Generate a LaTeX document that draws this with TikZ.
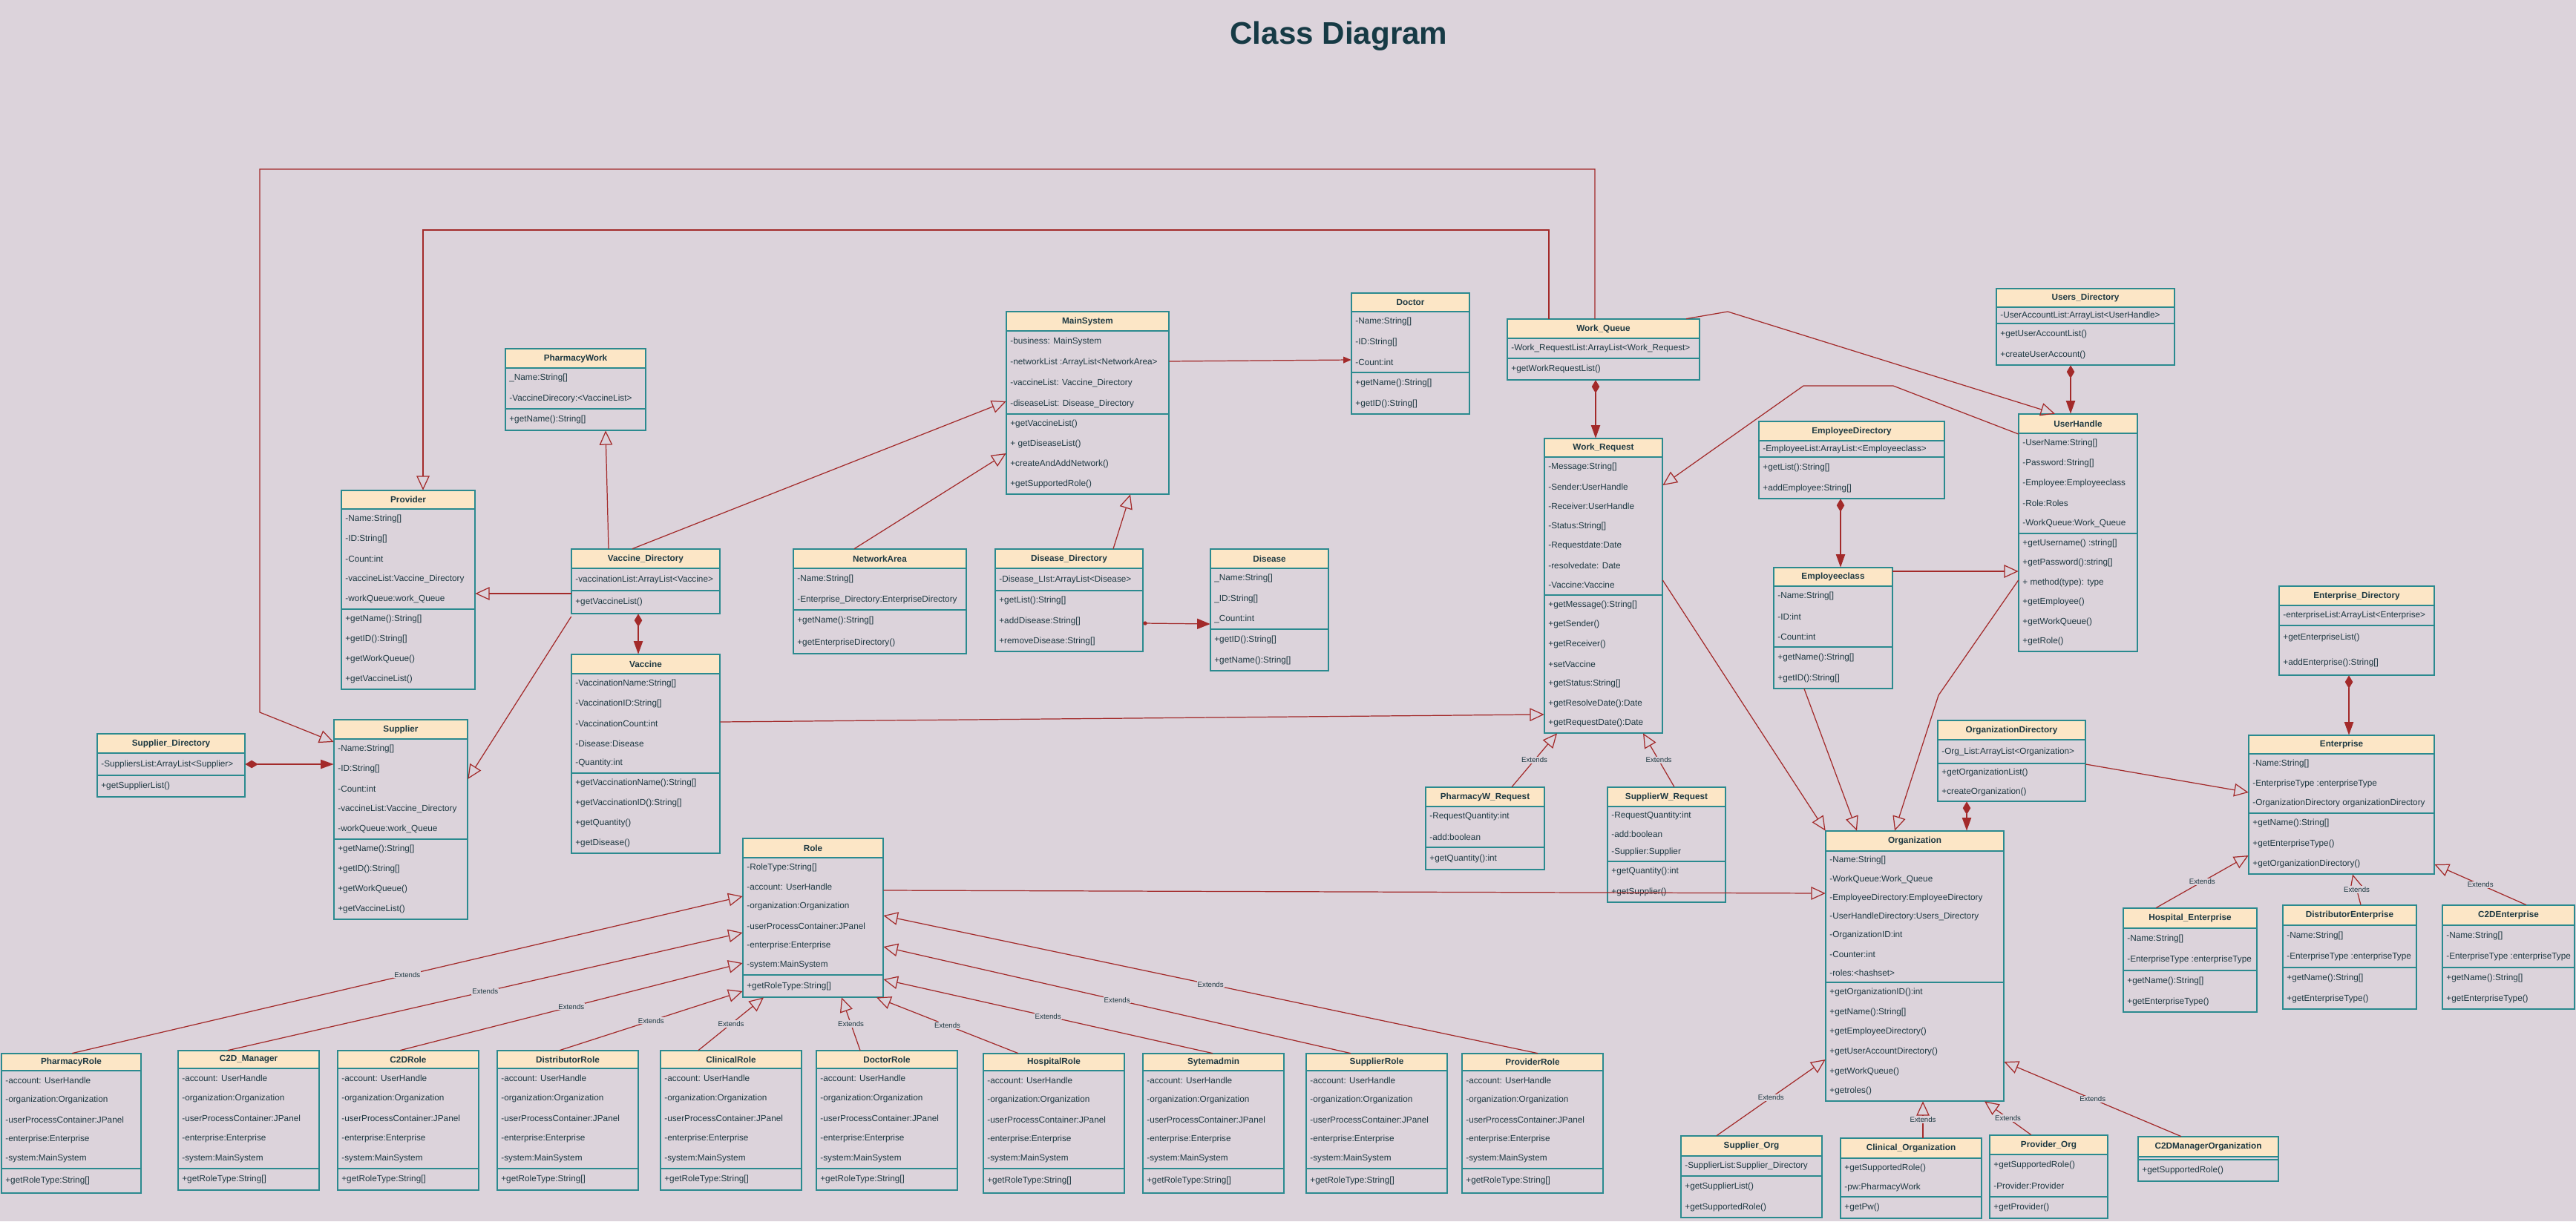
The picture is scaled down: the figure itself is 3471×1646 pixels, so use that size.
\documentclass[tikz,border=0pt]{standalone}
\usepackage{fontspec}
\setmainfont{Liberation Sans}
\usetikzlibrary{arrows.meta,fit}
\definecolor{bg}{HTML}{DCD3DB}
\definecolor{hdr}{HTML}{FCE6C6}
\definecolor{bordc}{HTML}{2B8A8F}
\definecolor{linec}{HTML}{A32A2A}
\definecolor{txtc}{HTML}{1E3942}
\definecolor{titlec}{HTML}{163A45}
\tikzset{
  box/.style={draw=bordc,line width=0.9pt},
  ttl/.style={font=\fontsize{6.7}{8}\selectfont\bfseries,text=txtc,inner sep=0},
  txt/.style={font=\fontsize{6.7}{8}\selectfont,text=txtc,anchor=west,inner sep=0},
  link/.style={draw=linec,line width=0.7pt},
  inh/.style={link,-{Triangle[open,length=11pt,width=10pt]}},
  comp/.style={link,{Diamond[length=10pt,width=6pt]}-{Triangle[length=10pt,width=7pt]}},
  assoc/.style={link,-{Triangle[length=6pt,width=5pt]}},
  assocd/.style={link,{Circle[length=3pt]}-{Triangle[length=10pt,width=8pt]}},
  ext/.style={font=\fontsize{5.5}{6}\selectfont,text=txtc,fill=bg,inner sep=0.6pt,midway}
}
\def\setys#1/#2/#3/#4\relax{\def\ya{#1}\def\yb{#2}\def\yc{#3}\def\yd{#4}}
\newcommand\cls[7]{%
  \setys#4\relax
  \draw[box,fill=hdr] (#2,\ya) rectangle (#3,\yb);
  \draw[box] (#2,\yb) rectangle (#3,\yc);
  \draw[box] (#2,\yc) rectangle (#3,\yd);
  \node[fit={(#2,\ya)(#3,\yd)},inner sep=0] (#1) {};
  \node[ttl] at ({(#2+#3)/2},{(\ya+\yb)/2}) {#5};
  \foreach \itm [count=\n] in {#6}{\xdef\na{\n}}
  \foreach \itm [count=\i] in {#6}{\node[txt] at ({#2+5},{\yb+(\i-0.5)*(\yc-\yb)/\na}) {\itm};}
  \foreach \itm [count=\n] in {#7}{\xdef\nm{\n}}
  \foreach \itm [count=\i] in {#7}{\node[txt] at ({#2+5},{\yc+(\i-0.5)*(\yd-\yc)/\nm}) {\itm};}
}
\newcommand\rolecls[5]{\cls{#1}{#2}{#3}{#4}{#5}{-account: UserHandle,-organization:Organization,-userProcessContainer:JPanel,-enterprise:Enterprise,-system:MainSystem}{+getRoleType:String[]}}
\begin{document}
\begin{tikzpicture}[x=0.02cm,y=-0.02cm]
\fill[bg] (0,0) rectangle (3471,1646);
\useasboundingbox (0,0) rectangle (3471,1646);
\node[font=\fontsize{24}{28}\selectfont\bfseries,text=titlec] (title) at (1804,49) {Class Diagram};

\cls{prov}{460}{640}{661/686/821/929}{Provider}{-Name:String[],-ID:String[],-Count:int,-vaccineList:Vaccine\_Directory,-workQueue:work\_Queue}{+getName():String[],+getID():String[],+getWorkQueue(),+getVaccineList()}
\cls{supp}{450}{630}{970/996/1131/1239}{Supplier}{-Name:String[],-ID:String[],-Count:int,-vaccineList:Vaccine\_Directory,-workQueue:work\_Queue}{+getName():String[],+getID():String[],+getWorkQueue(),+getVaccineList()}
\cls{pw}{681}{870}{470/496/551/580}{PharmacyWork}{\_Name:String[],-VaccineDirecory:<VaccineList>}{+getName():String[]}
\cls{vd}{770}{970}{740/766/796/827}{Vaccine\_Directory}{-vaccinationList:ArrayList<Vaccine>}{+getVaccineList()}
\cls{vac}{770}{970}{882/908/1042/1150}{Vaccine}{-VaccinationName:String[],-VaccinationID:String[],-VaccinationCount:int,-Disease:Disease,-Quantity:int}{+getVaccinationName():String[],+getVaccinationID():String[],+getQuantity(),+getDisease()}
\cls{sd}{131}{330}{989/1015/1045/1074}{Supplier\_Directory}{-SuppliersList:ArrayList<Supplier>}{+getSupplierList()}
\cls{net}{1069}{1302}{740/766/822/881}{NetworkArea}{-Name:String[],-Enterprise\_Directory:EnterpriseDirectory}{+getName():String[],+getEnterpriseDirectory()}
\cls{ms}{1356}{1575}{420/446/558/666}{MainSystem}{-business: MainSystem,-networkList :ArrayList<NetworkArea>,-vaccineList: Vaccine\_Directory,-diseaseList: Disease\_Directory}{+getVaccineList(),+ getDiseaseList(),+createAndAddNetwork(),+getSupportedRole()}
\cls{doc}{1821}{1980}{395/420/502/558}{Doctor}{-Name:String[],-ID:String[],-Count:int}{+getName():String[],+getID():String[]}
\cls{dd}{1341}{1540}{740/766/796/878}{Disease\_Directory}{-Disease\_LIst:ArrayList<Disease>}{+getList():String[],+addDisease:String[],+removeDisease:String[]}
\cls{dis}{1631}{1790}{740/766/848/904}{Disease}{\_Name:String[],\_ID:String[],\_Count:int}{+getID():String[],+getName():String[]}
\cls{wq}{2031}{2290}{430/456/483/512}{Work\_Queue}{-Work\_RequestList:ArrayList<Work\_Request>}{+getWorkRequestList()}
\cls{wr}{2081}{2240}{591/616/802/988}{Work\_Request}{-Message:String[],-Sender:UserHandle,-Receiver:UserHandle,-Status:String[],-Requestdate:Date,-resolvedate: Date,-Vaccine:Vaccine}{+getMessage():String[],+getSender(),+getReceiver(),+setVaccine,+getStatus:String[],+getResolveDate():Date,+getRequestDate():Date}
\cls{ud}{2690}{2930}{389/414/436/492}{Users\_Directory}{-UserAccountList:ArrayList<UserHandle>}{+getUserAccountList(),+createUserAccount()}
\cls{uh}{2720}{2880}{558/584/719/878}{UserHandle}{-UserName:String[],-Password:String[],-Employee:Employeeclass,-Role:Roles,-WorkQueue:Work\_Queue}{+getUsername() :string[],+getPassword():string[],+ method(type): type,+getEmployee(),+getWorkQueue(),+getRole()}
\cls{ed}{2370}{2620}{568/594/616/672}{EmployeeDirectory}{-EmployeeList:ArrayList:<Employeeclass>}{+getList():String[],+addEmployee:String[]}
\cls{emp}{2390}{2550}{765/790/872/928}{Employeeclass}{-Name:String[],-ID:int,-Count:int}{+getName():String[],+getID():String[]}
\cls{entd}{3071}{3280}{790/816/843/910}{Enterprise\_Directory}{-enterpriseList:ArrayList<Enterprise>}{+getEnterpriseList(),+addEnterprise():String[]}
\cls{ent}{3030}{3280}{991/1016/1096/1178}{Enterprise}{-Name:String[],-EnterpriseType :enterpriseType,-OrganizationDirectory organizationDirectory}{+getName():String[],+getEnterpriseType(),+getOrganizationDirectory()}
\cls{od}{2611}{2810}{971/997/1029/1080}{OrganizationDirectory}{-Org\_List:ArrayList<Organization>}{+getOrganizationList(),+createOrganization()}
\cls{pwr}{1921}{2081}{1061/1087/1142/1172}{PharmacyW\_Request}{-RequestQuantity:int,-add:boolean}{+getQuantity():int}
\cls{swr}{2166}{2325}{1061/1087/1161/1216}{SupplierW\_Request}{-RequestQuantity:int,-add:boolean,-Supplier:Supplier}{+getQuantity():int,+getSupplier()}
\cls{org}{2460}{2700}{1120/1147/1324/1484}{Organization}{-Name:String[],-WorkQueue:Work\_Queue,-EmployeeDirectory:EmployeeDirectory,-UserHandleDirectory:Users\_Directory,-OrganizationID:int,-Counter:int,-roles:<hashset>}{+getOrganizationID():int,+getName():String[],+getEmployeeDirectory(),+getUserAccountDirectory(),+getWorkQueue(),+getroles()}
\cls{hent}{2861}{3041}{1224/1251/1308/1364}{Hospital\_Enterprise}{-Name:String[],-EnterpriseType :enterpriseType}{+getName():String[],+getEnterpriseType()}
\cls{dent}{3076}{3256}{1220/1247/1304/1360}{DistributorEnterprise}{-Name:String[],-EnterpriseType :enterpriseType}{+getName():String[],+getEnterpriseType()}
\cls{cent}{3291}{3469}{1220/1247/1304/1360}{C2DEnterprise}{-Name:String[],-EnterpriseType :enterpriseType}{+getName():String[],+getEnterpriseType()}
\cls{sorg}{2265}{2455}{1531/1558/1585/1641}{Supplier\_Org}{-SupplierList:Supplier\_Directory}{+getSupplierList(),+getSupportedRole()}
\cls{corg}{2480}{2670}{1534/1561/1613/1642}{Clinical\_Organization}{+getSupportedRole(),-pw:PharmacyWork}{+getPw()}
\cls{porg}{2681}{2840}{1530/1556/1613/1642}{Provider\_Org}{+getSupportedRole(),-Provider:Provider}{+getProvider()}
\cls{morg}{2881}{3070}{1532/1559/1563/1592}{C2DManagerOrganization}{}{+getSupportedRole()}
\cls{role}{1001}{1190}{1130/1156/1314/1344}{Role}{-RoleType:String[],-account: UserHandle,-organization:Organization,-userProcessContainer:JPanel,-enterprise:Enterprise,-system:MainSystem}{+getRoleType:String[]}
\rolecls{r1}{2}{190}{1420/1443/1575/1608}{PharmacyRole}
\rolecls{r2}{240}{430}{1416/1440/1575/1604}{C2D\_Manager}
\rolecls{r3}{455}{645}{1416/1440/1575/1604}{C2DRole}
\rolecls{r4}{670}{860}{1416/1440/1575/1604}{DistributorRole}
\rolecls{r5}{890}{1080}{1416/1440/1575/1604}{ClinicalRole}
\rolecls{r6}{1100}{1290}{1416/1440/1575/1604}{DoctorRole}
\rolecls{r7}{1325}{1515}{1420/1443/1575/1608}{HospitalRole}
\rolecls{r8}{1540}{1730}{1420/1443/1575/1608}{Sytemadmin}
\rolecls{r9}{1760}{1950}{1420/1443/1575/1608}{SupplierRole}
\rolecls{r10}{1970}{2160}{1420/1443/1575/1608}{ProviderRole}

% connectors
\draw[inh] (wq.north -| 2149,0) -- (2149,228) -- (350,228) -- (350,960) -- (supp.west |- 0,1000);
\draw[inh] (wq.north -| 2087,0) -- (2087,310) -- (570,310) -- (prov.north -| 570,0);
\draw[inh] (vd.west |- 0,800) -- (prov.east |- 0,800);
\draw[inh] (vd.north -| 820,0) -- (pw.south -| 816,0);
\draw[inh] (vd.north -| 852,0) -- (ms.west |- 0,541);
\draw[inh] (net.north -| 1151,0) -- (ms.west |- 0,611);
\draw[comp] (vd.south -| 860,0) -- (vac.north -| 860,0);
\draw[inh] (vd.west |- 0,831) -- (supp.east |- 0,1050);
\draw[comp] (sd.east |- 0,1030) -- (supp.west |- 0,1030);
\draw[inh] (vac.east |- 0,973) -- (wr.west |- 0,963);
\draw[assoc] (ms.east |- 0,487) -- (doc.west |- 0,485);
\draw[inh] (dd.north -| 1500,0) -- (ms.south -| 1523,0);
\draw[assocd] (dd.east |- 0,840) -- (dis.west |- 0,841);
\draw[comp] (wq.south -| 2150,0) -- (wr.north -| 2150,0);
\draw[inh] (wq.north -| 2272,0) -- (2328,420) -- (uh.north -| 2769,0);
\draw[inh] (uh.west |- 0,585) -- (2551,520) -- (2430,520) -- (wr.east |- 0,654);
\draw[comp] (ud.south -| 2790,0) -- (uh.north -| 2790,0);
\draw[comp] (ed.south -| 2480,0) -- (emp.north -| 2480,0);
\draw[inh] (emp.east |- 0,770) -- (uh.west |- 0,770);
\draw[inh] (emp.south -| 2431,0) -- (org.north -| 2502,0);
\draw[inh] (wr.east |- 0,782) -- (org.north west);
\draw[inh] (uh.west |- 0,782) -- (2612,937) -- (org.north -| 2553,0);
\draw[comp] (od.south -| 2650,0) -- (org.north -| 2650,0);
\draw[inh] (od.east |- 0,1030) -- (ent.west |- 0,1068);
\draw[comp] (entd.south -| 3165,0) -- (ent.north -| 3165,0);
\draw[inh] (pwr.north -| 2037,0) -- node[ext]{Extends} (wr.south -| 2098,0);
\draw[inh] (swr.north -| 2256,0) -- node[ext]{Extends} (wr.south -| 2214,0);
\draw[inh] (role.east |- 0,1200) -- (org.west |- 0,1204);
\draw[inh] (r1.north -| 97,0) -- node[ext]{Extends} (role.west |- 0,1208);
\draw[inh] (r2.north -| 307,0) -- node[ext]{Extends} (role.west |- 0,1257);
\draw[inh] (r3.north -| 539,0) -- node[ext]{Extends} (role.west |- 0,1298);
\draw[inh] (r4.north -| 754,0) -- node[ext]{Extends} (role.west |- 0,1336);
\draw[inh] (r5.north -| 941,0) -- node[ext]{Extends} (role.south -| 1029,0);
\draw[inh] (r6.north -| 1159,0) -- node[ext]{Extends} (role.south -| 1134,0);
\draw[inh] (r7.north -| 1372,0) -- node[ext]{Extends} (role.south -| 1181,0);
\draw[inh] (r8.north -| 1634,0) -- node[ext]{Extends} (role.east |- 0,1320);
\draw[inh] (r9.north -| 1820,0) -- node[ext]{Extends} (role.east |- 0,1276);
\draw[inh] (r10.north -| 2072,0) -- node[ext]{Extends} (role.east |- 0,1234);
\draw[inh] (sorg.north -| 2313,0) -- node[ext]{Extends} (org.west |- 0,1428);
\draw[inh] (corg.north -| 2591,0) -- node[ext]{Extends} (org.south -| 2591,0);
\draw[inh] (porg.north -| 2737,0) -- node[ext]{Extends} (org.south -| 2674,0);
\draw[inh] (morg.north -| 2939,0) -- node[ext]{Extends} (org.east |- 0,1431);
\draw[inh] (hent.north -| 2905,0) -- node[ext]{Extends} (ent.west |- 0,1153);
\draw[inh] (dent.north -| 3181,0) -- node[ext]{Extends} (ent.south -| 3170,0);
\draw[inh] (cent.north -| 3404,0) -- node[ext]{Extends} (ent.east |- 0,1165);
\end{tikzpicture}
\end{document}
